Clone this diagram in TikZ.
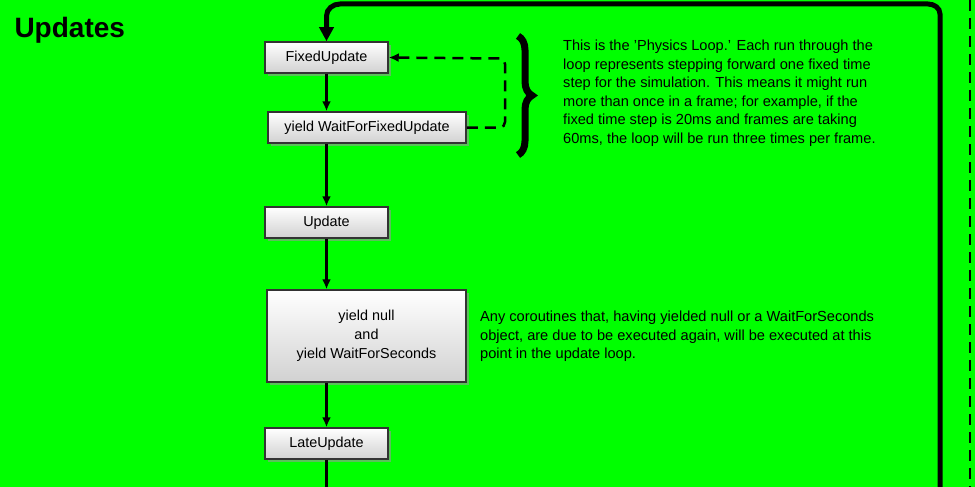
\documentclass[tikz,border=0pt]{standalone}
\usepackage{fontspec}
\setmainfont{Liberation Sans}
\usetikzlibrary{arrows.meta,shadows,decorations.pathreplacing}
\begin{document}
\begin{tikzpicture}[x=1pt,y=-1pt,
 box/.style={draw=black!80,line width=1.5pt,top color=white,bottom color=black!18,
   drop shadow={shadow xshift=3pt,shadow yshift=-3pt,fill=black!40,opacity=0.6},
   font=\fontsize{14.4}{19}\selectfont,align=center,inner sep=0pt},
 flow/.style={line width=2.5pt,-{Latex[length=10pt,width=9pt]}},
 note/.style={font=\fontsize{14.6}{18.5}\selectfont,align=left,anchor=north west,inner sep=0pt}]
\fill[green] (0,0) rectangle (975,487);
\useasboundingbox (0,0) rectangle (975,487);
\node[font=\bfseries\fontsize{28}{30}\selectfont,anchor=west] (title) at (11,30) {Updates};
\node[box,minimum width=123,minimum height=31] (fu) at (326.5,57.5) {FixedUpdate};
\node[box,minimum width=198,minimum height=31] (wf) at (367,127.5) {yield WaitForFixedUpdate};
\node[box,minimum width=123,minimum height=31] (up) at (326.5,222.5) {Update};
\node[box,minimum width=199,minimum height=92] (yn) at (366.5,336) {yield null\\and\\yield WaitForSeconds};
\node[box,minimum width=123,minimum height=31] (lu) at (326.5,443.5) {LateUpdate};
\coordinate (bot) at (940,487);
\coordinate (botl) at (326.5,487);
\draw[line width=5pt,-{Triangle[length=14pt,width=14pt]}] (bot) -- (940,14) to[out=90,in=0] (928,4) -- (340,4) to[out=180,in=90] (326.5,16) -- (fu.north);
\draw[flow] (fu.south) -- (fu.south |- wf.north);
\draw[flow] (fu.south |- wf.south) -- (up.north);
\draw[flow] (up.south) -- (up.south |- yn.north);
\draw[flow] (up.south |- yn.south) -- (lu.north);
\draw[line width=2.5pt] (lu.south) -- (botl);
\draw[line width=2.5pt,dash pattern=on 11pt off 7pt,-{Latex[length=10pt,width=9pt]}]
  (wf.east) -- (500,127.5) to[out=0,in=-90] (505,122) -- (505,64) to[out=90,in=0] (500,58.5) -- (fu.east);
\draw[line width=7pt,decorate,decoration={brace,amplitude=14pt}] (518,36) -- (518,155);
\draw[line width=2.2pt,dash pattern=on 11pt off 7pt] (970,0) -- (970,487);
\node[note] (n1) at (563,40) {This is the 'Physics Loop.' Each run through the\\loop represents stepping forward one fixed time\\step for the simulation. This means it might run\\more than once in a frame; for example, if the\\fixed time step is 20ms and frames are taking\\60ms, the loop will be run three times per frame.};
\node[note] (n2) at (480,311) {Any coroutines that, having yielded null or a WaitForSeconds\\object, are due to be executed again, will be executed at this\\point in the update loop.};
\end{tikzpicture}
\end{document}
